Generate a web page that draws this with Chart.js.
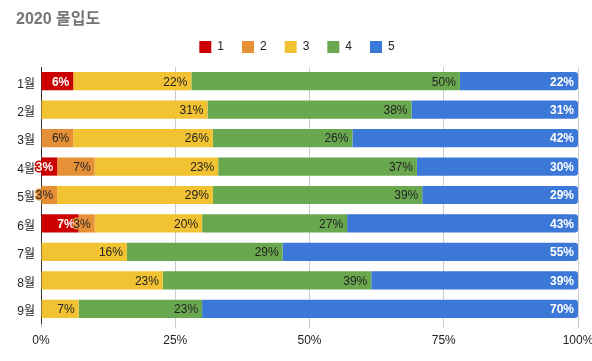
<!DOCTYPE html>
<html>
<head>
<meta charset="utf-8">
<script src="https://cdn.jsdelivr.net/npm/chart.js@4"></script>
<style>
  body { margin: 0; background: #fff; }
  #wrap { width: 592px; height: 361px; }
</style>
</head>
<body>
<div id="wrap"><canvas id="chart"></canvas></div>
<script>
// Data (percent of responses per month)
const months = ['1월', '2월', '3월', '4월', '5월', '6월', '7월', '8월', '9월'];
const levels = ['1', '2', '3', '4', '5'];
const score1 = [6, null, null, 3, null, 7, null, null, null];
const score2 = [null, null, 6, 7, 3, 3, null, null, null];
const score3 = [22, 31, 26, 23, 29, 20, 16, 22.7, 7];
const score4 = [50, 38, 26, 37, 39, 27, 29, 38.8, 23];
const score5 = [22, 31, 42, 30, 29, 43, 55, 38.5, 70];
const xTicks = [0, 25, 50, 75, 100];

const colors = ['#cc0000', '#e69138', '#f1c232', '#6aa84f', '#3c78d8'];
const FONT = "Arial, 'Liberation Sans', 'Noto Sans CJK KR', sans-serif";

// Labels inside each segment, right aligned like Google Sheets
const segmentLabels = {
    id: 'segmentLabels',
    afterDatasetsDraw(chart) {
        const ctx = chart.ctx;
        ctx.save();
        ctx.textAlign = 'right';
        ctx.textBaseline = 'middle';
        ctx.lineJoin = 'round';
        chart.data.datasets.forEach((ds, di) => {
            const meta = chart.getDatasetMeta(di);
            const light = di === 0 || di === 4;
            ctx.font = (light ? 'bold ' : '') + '12px ' + FONT;
            meta.data.forEach((bar, i) => {
                const v = ds.data[i];
                if (v == null) return;
                const p = bar.getProps(['x', 'y'], true);
                const txt = Math.round(v) + '%';
                ctx.strokeStyle = colors[di];
                ctx.lineWidth = 3;
                ctx.strokeText(txt, p.x - 4, p.y + 1);
                ctx.fillStyle = light ? '#ffffff' : '#222222';
                ctx.fillText(txt, p.x - 4, p.y + 1);
            });
        });
        ctx.restore();
    }
};

// keep the legend band short so the plot starts where the reference does
const legendHeight = {
    id: 'legendHeight',
    beforeUpdate(chart) {
        const lg = chart.legend;
        if (lg && !lg._patched) {
            const fit = lg.fit;
            lg.fit = function() { fit.call(this); this.height = 44; };
            lg._patched = true;
        }
    }
};

const series = [score1, score2, score3, score4, score5];

new Chart(document.getElementById('chart'), {
    type: 'bar',
    data: {
        labels: months,
        datasets: series.map((d, i) => ({
            label: levels[i],
            data: d,
            backgroundColor: colors[i],
            borderWidth: 0,
            borderRadius: i === 4 ? 3 : 0,
            barPercentage: 0.64,
            categoryPercentage: 1
        }))
    },
    options: {
        indexAxis: 'y',
        responsive: true,
        maintainAspectRatio: false,
        animation: false,
        layout: { padding: { left: 16, right: 14, top: 0, bottom: 0 } },
        plugins: {
            title: {
                display: true,
                text: '2020 몰입도',
                align: 'start',
                color: '#757575',
                font: { family: FONT, size: 16, weight: 'bold', lineHeight: 1 },
                padding: { top: 12, bottom: -5 }
            },
            legend: {
                position: 'top',
                labels: {
                    boxWidth: 12,
                    boxHeight: 12,
                    padding: 18,
                    color: '#222',
                    font: { family: FONT, size: 12 }
                }
            },
            tooltip: { enabled: false }
        },
        scales: {
            x: {
                stacked: true,
                min: 0,
                max: 100,
                afterBuildTicks: s => { s.ticks = xTicks.map(v => ({ value: v })); },
                afterFit: s => { s.height = 38; s.paddingRight = 0; },
                ticks: {
                    callback: v => v + '%',
                    color: '#222',
                    padding: 5,
                    maxRotation: 0,
                    font: { family: FONT, size: 12 }
                },
                grid: { color: '#cccccc', tickLength: 5 },
                border: { display: false }
            },
            y: {
                stacked: true,
                afterFit: s => { s.width = 25; },
                ticks: {
                    color: '#222',
                    padding: 6,
                    labelOffset: 3,
                    font: { family: FONT, size: 12 }
                },
                grid: { display: false, drawTicks: false },
                border: { display: true, color: '#333333', width: 1 }
            }
        }
    },
    plugins: [segmentLabels, legendHeight]
});
</script>
</body>
</html>
